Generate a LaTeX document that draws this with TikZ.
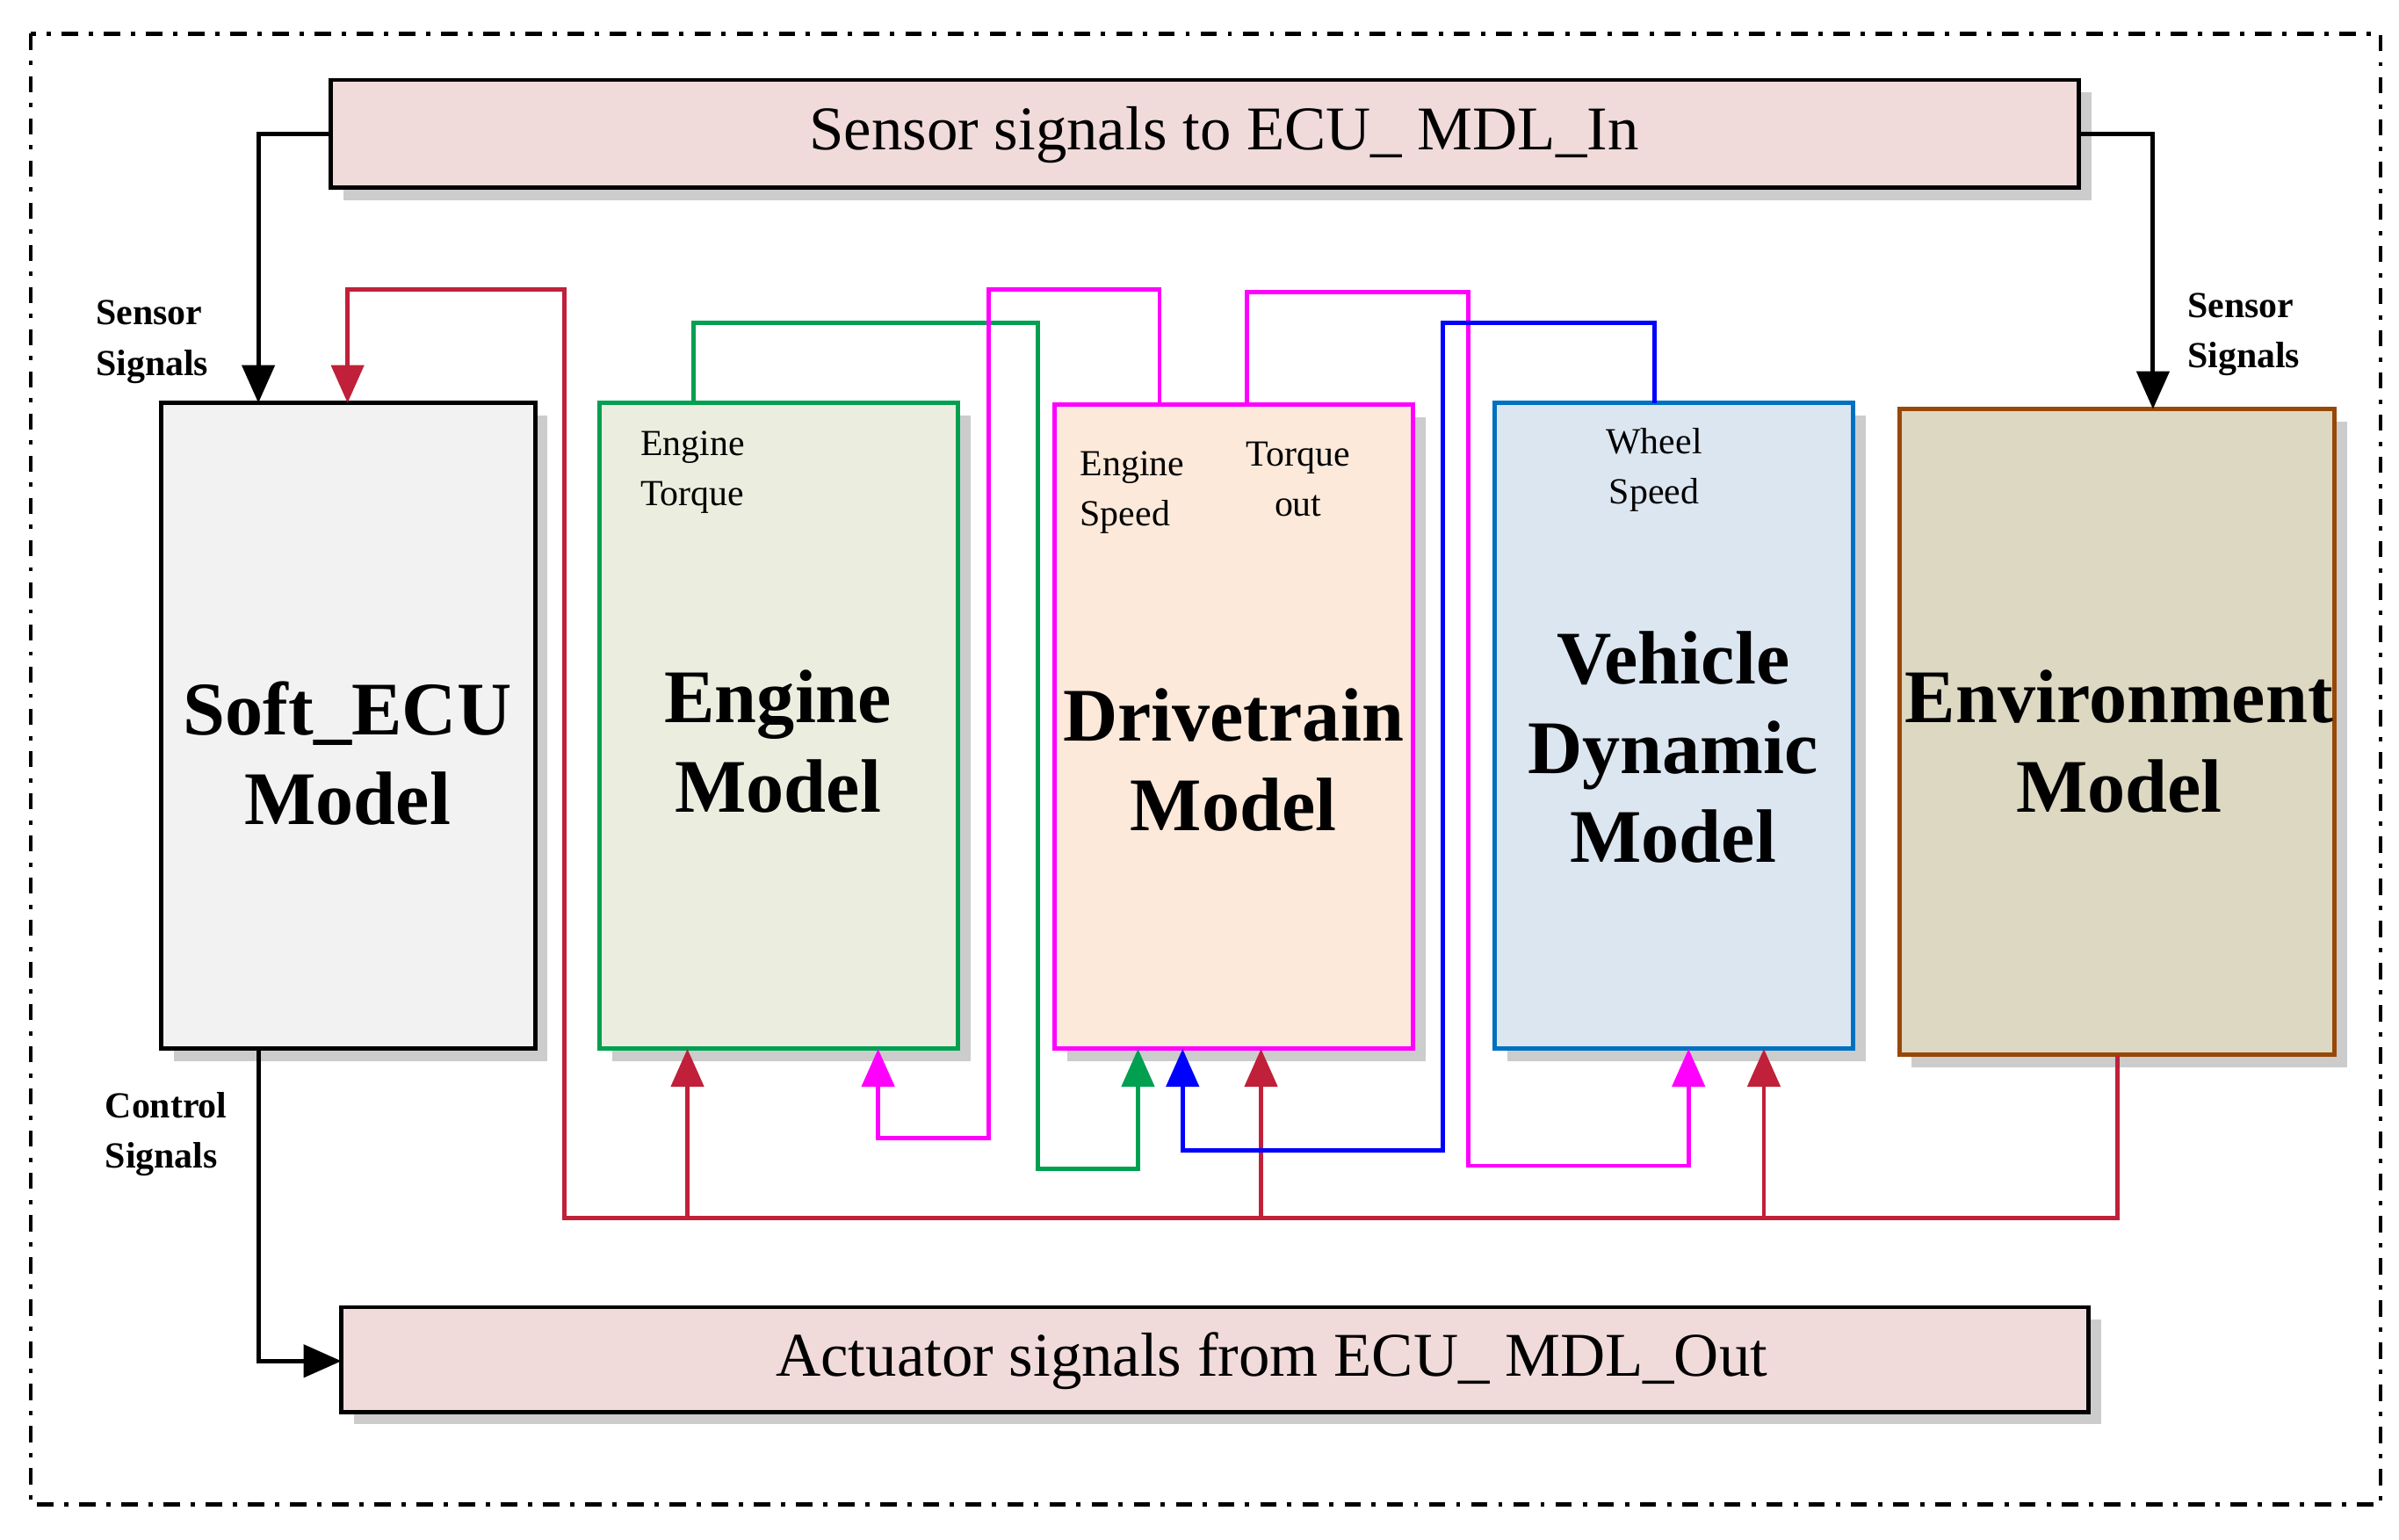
\documentclass[tikz,border=0pt]{standalone}
\usepackage{fontspec}
\setmainfont{Liberation Serif}
\usetikzlibrary{shadows,arrows.meta}
\definecolor{crim}{HTML}{C0203A}
\definecolor{mag}{HTML}{FF00FF}
\definecolor{grn}{HTML}{00A050}
\definecolor{blu}{HTML}{0000FF}
\tikzset{
 bar/.style={draw=black,thick,fill={rgb,255:red,240;green,218;blue,218},drop shadow={opacity=0.4}},
 blk/.style={thick,drop shadow={opacity=0.4}},
 lbl/.style={font=\fontsize{14}{16.5}\selectfont\bfseries,align=center},
 sm/.style={font=\fontsize{6.8}{9.3}\selectfont,align=left,anchor=north west},
 sig/.style={font=\fontsize{6.8}{9.3}\selectfont\bfseries,align=left,anchor=north west},
 arr/.style={-{Triangle[length=7pt,width=6pt]},thick},
}
\begin{document}
\begin{tikzpicture}[x=0.01cm,y=-0.01cm]
\useasboundingbox[fill=white] (0,0) rectangle (1560,1001);
\draw[thick,dash dot] (20,22) rectangle (1548,978);
\path[bar] (215,52) rectangle (1352,122);
\node[font=\fontsize{11.5}{13}\selectfont] (top) at (796,88) {Sensor signals to ECU\_ MDL\_In};
\path[bar] (222,850) rectangle (1358,918);
\node[font=\fontsize{11.5}{13}\selectfont] (bot) at (827,885) {Actuator signals from ECU\_ MDL\_Out};
\path[blk,draw=black,fill={rgb,255:red,242;green,242;blue,242}] (105,262) rectangle (348,682);
\node[lbl] (ecu) at (226,490) {Soft\_ECU\\Model};
\path[blk,draw=grn,fill={rgb,255:red,235;green,238;blue,223}] (390,262) rectangle (623,682);
\node[lbl] (eng) at (506,482) {Engine\\Model};
\path[blk,draw=mag,fill={rgb,255:red,252;green,233;blue,218}] (686,263) rectangle (919,682);
\node[lbl] (dt) at (802,494) {Drivetrain\\Model};
\path[blk,draw={rgb,255:red,0;green,112;blue,192},fill={rgb,255:red,220;green,230;blue,241}] (972,262) rectangle (1205,682);
\node[lbl] (veh) at (1088,486) {Vehicle\\Dynamic\\Model};
\path[blk,draw={rgb,255:red,151;green,72;blue,6},fill={rgb,255:red,221;green,216;blue,194}] (1235,266) rectangle (1518,686);
\node[lbl] (env) at (1378,482) {Environment\\Model};
\node[sm] (l1) at (404,268) {Engine\\Torque};
\node[sm] (l2) at (690,281) {Engine\\Speed};
\node[sm,align=center] (l3) at (798,275) {Torque\\out};
\node[sm,align=center] (l4) at (1032,266) {Wheel\\Speed};
\node[sig] (s1) at (50,183) {Sensor\\Signals};
\node[sig] (s2) at (1410,178) {Sensor\\Signals};
\node[sig] (s3) at (56,698) {Control\\Signals};
% black
\draw[arr] (215,87) -- (168,87) -- (168,262);
\draw[arr] (1352,87) -- (1400,87) -- (1400,266);
\draw[arr] (168,682) -- (168,885) -- (222,885);
% red
\draw[arr,crim] (1377,686) -- (1377,792) -- (367,792) -- (367,188) -- (226,188) -- (226,262);
\draw[arr,crim] (447,792) -- (447,682);
\draw[arr,crim] (820,792) -- (820,682);
\draw[arr,crim] (1147,792) -- (1147,682);
% green
\draw[arr,grn] (451,262) -- (451,210) -- (675,210) -- (675,760) -- (740,760) -- (740,682);
% magenta
\draw[arr,mag] (754,263) -- (754,188) -- (643,188) -- (643,740) -- (571,740) -- (571,682);
\draw[arr,mag] (811,263) -- (811,190) -- (955,190) -- (955,758) -- (1098,758) -- (1098,682);
% blue
\draw[arr,blu] (1076,262) -- (1076,210) -- (938,210) -- (938,748) -- (769,748) -- (769,682);
\end{tikzpicture}
\end{document}
